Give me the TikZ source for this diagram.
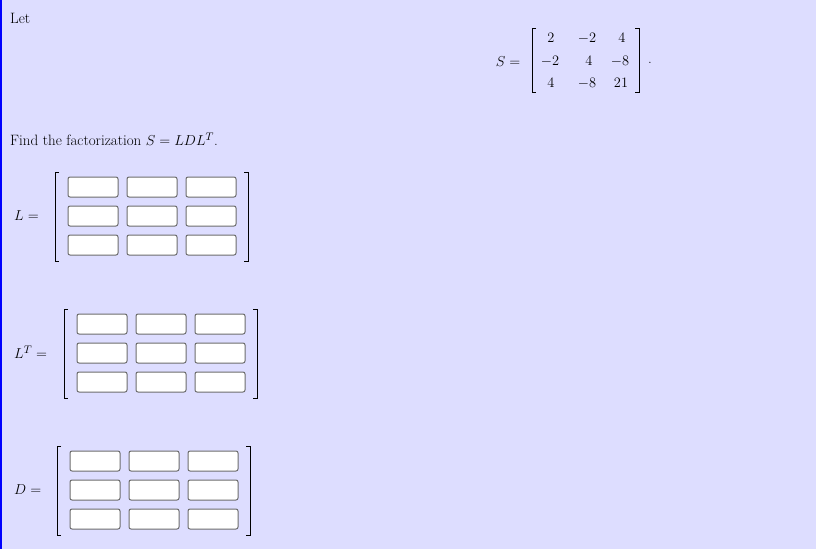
\documentclass[tikz,border=0pt]{standalone}
\begin{document}
\begin{tikzpicture}[x=1pt,y=-1pt,
  box/.style={draw=gray!85!black,fill=white,rounded corners=2pt,line width=1pt},
  brk/.style={draw=black,line width=0.9pt},
  txt/.style={inner sep=0pt,font=\fontsize{15}{18}\selectfont},
  ent/.style={inner sep=0pt,font=\fontsize{14}{17}\selectfont}]
\fill[fill={rgb,255:red,221;green,221;blue,255}] (0,0) rectangle (816,549);
\useasboundingbox (0,0) rectangle (816,549);
\fill[blue] (0,0) rectangle (2,549);
\node[txt,anchor=west] (let) at (10,18) {Let};
\node[txt,anchor=west] (find) at (10,139) {Find the factorization $S=LDL^T$.};
% S matrix
\node[txt] (seq) at (508,62) {$S=$};
\draw[brk] (536,28) -- (532,28) -- (532,92) -- (536,92);
\draw[brk] (635,28) -- (639,28) -- (639,92) -- (635,92);
\foreach \r/\y in {1/38,2/61,3/83}{}
\node[ent] (s11) at (551,38) {$2$};
\node[ent] (s12) at (587,38) {$-2$};
\node[ent] (s13) at (622,38) {$4$};
\node[ent] (s21) at (550,61) {$-2$};
\node[ent] (s22) at (589,61) {$4$};
\node[ent] (s23) at (620,61) {$-8$};
\node[ent] (s31) at (551,83) {$4$};
\node[ent] (s32) at (587,83) {$-8$};
\node[ent] (s33) at (621,83) {$21$};
\node[txt] (dot) at (650,63) {.};
% generic matrix of boxes
\newcommand{\boxmat}[5]{% name, label, labely, x0 (left bracket), y0 (top)
  \node[txt,anchor=west] (#1lab) at (14,#3) {#2};
  \draw[brk] (#4+4,#5) -- (#4,#5) -- (#4,#5+89) -- (#4+4,#5+89);
  \draw[brk] (#4+189,#5) -- (#4+193,#5) -- (#4+193,#5+89) -- (#4+189,#5+89);
  \foreach \i in {0,1,2}{\foreach \j in {0,1,2}{
    \draw[box] (#4+13+59*\j,#5+5+29*\i) rectangle ++(50,20);}}
}
\boxmat{L}{$L=$}{216}{55}{172}
\boxmat{LT}{$L^T=$}{352}{64}{309}
\boxmat{D}{$D=$}{490}{57}{446}
\end{tikzpicture}
\end{document}
